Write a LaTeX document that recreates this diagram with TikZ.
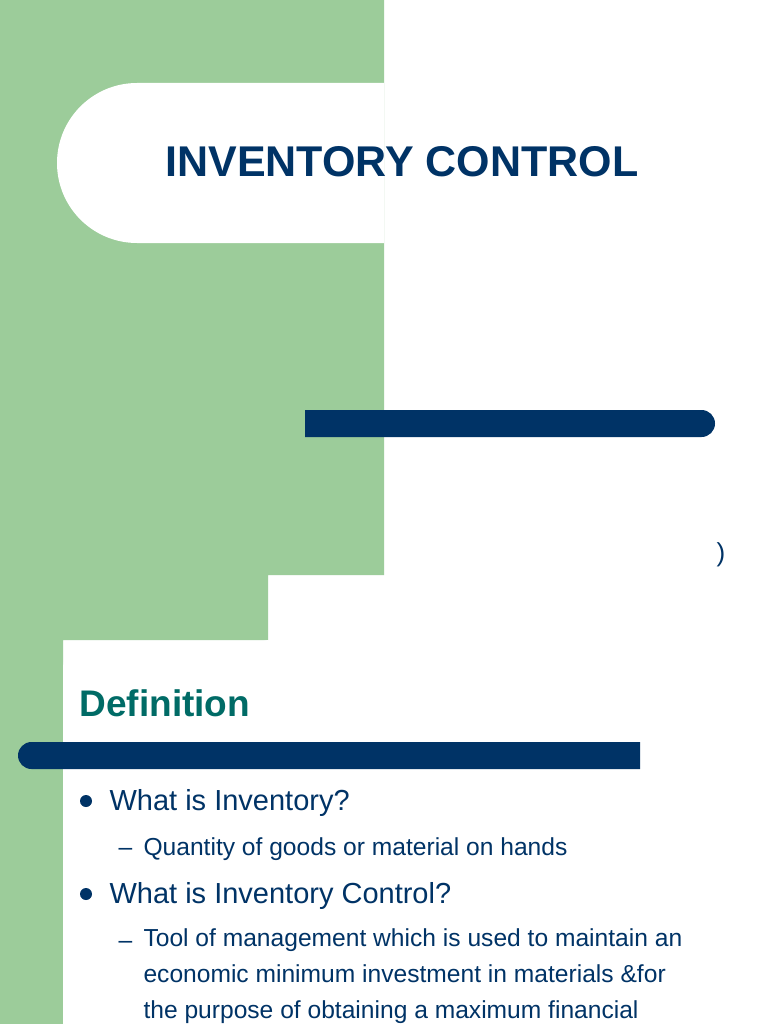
\documentclass[tikz,border=0pt]{standalone}
\usepackage{fontspec}
\setmainfont{Liberation Sans}
\definecolor{lgreen}{HTML}{9CCC9A}
\definecolor{navy}{HTML}{003366}
\definecolor{teal2}{HTML}{006B66}
\begin{document}
\begin{tikzpicture}[x=1pt,y=-1pt,
  body/.style={anchor=base west,text=navy,font=\fontsize{29}{32}\selectfont},
  sub/.style={anchor=base west,text=navy,font=\fontsize{24.6}{36}\selectfont,align=left},
  bar/.style={fill=navy}]
\useasboundingbox (0,0) rectangle (768,1024);
\fill[white] (0,0) rectangle (768,1024);
% green background
\fill[lgreen] (0,0) -- (384,0) -- (384,575) -- (268,575) -- (268,640) -- (63,640) -- (63,1024) -- (0,1024) -- cycle;
% second slide rounded corner
\fill[white] (63,1024) -- (63,660) arc[start angle=180,end angle=90,radius=20] -- (268,640) -- (268,1024) -- cycle;
% title pill
\fill[white] (384,83) -- (137,83) arc[start angle=-90,end angle=-270,radius=80] -- (384,243) -- cycle;
\node (title) at (402,162) {\fontsize{43}{50}\selectfont\bfseries\color{navy}INVENTORY CONTROL};
% bars
\fill[bar] (305,410) -- (701.5,410) arc[start angle=-90,end angle=90,radius=13.5] -- (305,437) -- cycle;
\fill[bar] (640,742) -- (31.5,742) arc[start angle=-90,end angle=-270,radius=13.5] -- (640,769) -- cycle;
\node (paren) at (721,555) {\fontsize{26}{30}\selectfont\color{navy})};
% content
\node[anchor=base west,text=teal2,font=\fontsize{37}{44}\selectfont\bfseries] (def) at (76,716) {Definition};
\fill[navy] (86,801) circle (6);
\node[body] (b1) at (106,810) {What is Inventory?};
\node[sub] (d1) at (115,855) {–};
\node[sub] (s1) at (140,855) {Quantity of goods or material on hands};
\fill[navy] (86,894) circle (6);
\node[body] (b2) at (106,903) {What is Inventory Control?};
\node[sub] (d2) at (115,948) {–};
\node[sub,anchor=north west] (s2) at (140,925) {Tool of management which is used to maintain an\\economic minimum investment in materials \&for\\the purpose of obtaining a maximum financial};
\end{tikzpicture}
\end{document}
